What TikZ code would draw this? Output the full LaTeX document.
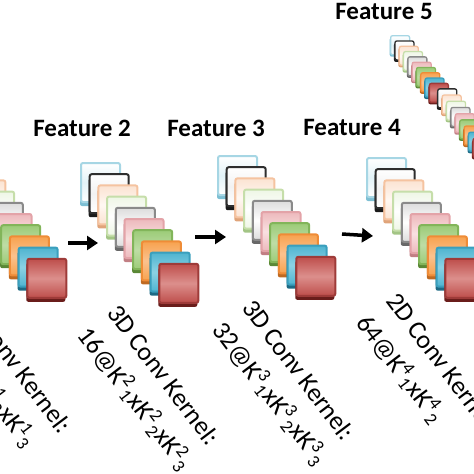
\documentclass[tikz,border=0pt]{standalone}
\usepackage{fontspec}
\setmainfont{Carlito}
\usepackage{tikz}
\usetikzlibrary{arrows.meta, shadows}
\definecolor{lbB}{HTML}{A6D6E4}\definecolor{lbF}{HTML}{FFFFFF}\definecolor{lbM}{HTML}{E2F3F8}\definecolor{lbD}{HTML}{7DBFD3}
\definecolor{bkB}{HTML}{2E2E2E}\definecolor{bkF}{HTML}{FFFFFF}\definecolor{bkM}{HTML}{F2F2F2}\definecolor{bkD}{HTML}{1A1A1A}
\definecolor{pcB}{HTML}{F5C3A0}\definecolor{pcF}{HTML}{FBE3D2}\definecolor{pcM}{HTML}{FFF8F2}\definecolor{pcD}{HTML}{E0A47A}
\definecolor{lgB}{HTML}{C6DEAA}\definecolor{lgF}{HTML}{EEF6E5}\definecolor{lgM}{HTML}{FFFFFF}\definecolor{lgD}{HTML}{A3C585}
\definecolor{gyB}{HTML}{8A8A8A}\definecolor{gyF}{HTML}{DCDCDC}\definecolor{gyM}{HTML}{FFFFFF}\definecolor{gyD}{HTML}{686868}
\definecolor{pkB}{HTML}{E3A3A8}\definecolor{pkF}{HTML}{EDB9BC}\definecolor{pkM}{HTML}{F9E0E1}\definecolor{pkD}{HTML}{C27F84}
\definecolor{gnB}{HTML}{82B55A}\definecolor{gnF}{HTML}{9CCB78}\definecolor{gnM}{HTML}{BEDDA5}\definecolor{gnD}{HTML}{5A8836}
\definecolor{orB}{HTML}{EF8C37}\definecolor{orF}{HTML}{F7A24F}\definecolor{orM}{HTML}{FBC28E}\definecolor{orD}{HTML}{BF6A22}
\definecolor{cyB}{HTML}{3A9FBD}\definecolor{cyF}{HTML}{4FB4D0}\definecolor{cyM}{HTML}{8CD2E4}\definecolor{cyD}{HTML}{1D6A84}
\definecolor{rdB}{HTML}{9E3B39}\definecolor{rdF}{HTML}{BE4E4B}\definecolor{rdM}{HTML}{DC8F8C}\definecolor{rdD}{HTML}{6A1D1B}
\newcommand{\fmcolors}{lbB/lbF/lbM/lbD, bkB/bkF/bkM/bkD, pcB/pcF/pcM/pcD, lgB/lgF/lgM/lgD, gyB/gyF/gyM/gyD, pkB/pkF/pkM/pkD, gnB/gnF/gnM/gnD, orB/orF/orM/orD, cyB/cyF/cyM/cyD, rdB/rdF/rdM/rdD}
\tikzstyle{feature} = [font=\bfseries\fontsize{25}{30}\selectfont]
\tikzstyle{kernel} = [rotate=-53, anchor=north west, inner sep=0pt, align=left, font=\fontsize{26}{37}\selectfont]
\tikzstyle{line} = [line width=3.5pt, -{Triangle[length=11pt,width=14pt]}]
\tikzstyle{sheet} = [rectangle, rounded corners=2pt, anchor=north west, inner sep=0pt]
\tikzstyle{bigsheet} = [sheet, minimum size=39pt, line width=2pt]
\tikzstyle{smallsheet} = [sheet, minimum size=19pt, line width=1.3pt]
% one feature map stack: name, x, y, style, first sheet, step x, step y, shadow
\newcommand{\fmstack}[8]{%
  \foreach \b/\f/\m/\d [count=\i from 0] in \fmcolors {
    \ifnum\i<#5\relax\else
      \node (#1-\i) [#4, draw=\b, top color=\f, bottom color=\f, middle color=\m,
        drop shadow={fill=\d, opacity=1, shadow xshift=-1pt, shadow yshift=-#8}]
        at ({#2+\i*#6},{#3+\i*#7}) {};
    \fi
  }}

\begin{document}
\begin{tikzpicture}[x=1pt,y=-1pt]
\useasboundingbox (0,0) rectangle (474,474);
\clip (0,0) rectangle (474,474);
% feature maps
\fmstack{f1}{-52}{157}{bigsheet}{0}{8.7}{11.2}{4pt}
\fmstack{f2}{80}{162}{bigsheet}{0}{8.7}{11.2}{4pt}
\fmstack{f3}{217}{155}{bigsheet}{0}{8.7}{11.2}{4pt}
\fmstack{f4}{366}{157}{bigsheet}{0}{8.7}{11.2}{4pt}
\fmstack{f5a}{390}{35}{smallsheet}{0}{4.3}{5.3}{2pt}
\fmstack{f5b}{432.7}{82}{smallsheet}{1}{4.4}{6.2}{2pt}
% titles
\node (t2) [feature] at (82,128) {Feature 2};
\node (t3) [feature] at (216,128) {Feature 3};
\node (t4) [feature] at (352,127) {Feature 4};
\node (t5) [feature] at (384,11) {Feature 5};
% arrows
\coordinate (a1s) at (68,243); \coordinate (a1e) at (98,243);
\coordinate (a2s) at (195,237); \coordinate (a2e) at (226,237);
\coordinate (a3s) at (342,234); \coordinate (a3e) at (373,236);
\draw [line] (a1s) -- (a1e);
\draw [line] (a2s) -- (a2e);
\draw [line] (a3s) -- (a3e);
% kernels
\node (k1) [kernel] at (-27,290) {3D Conv Kernel:\\8@K\textsuperscript{1}\textsubscript{1}xK\textsuperscript{1}\textsubscript{2}xK\textsuperscript{1}\textsubscript{3}};
\node (k2) [kernel] at (121,302) {3D Conv Kernel:\\16@K\textsuperscript{2}\textsubscript{1}xK\textsuperscript{2}\textsubscript{2}xK\textsuperscript{2}\textsubscript{3}};
\node (k3) [kernel] at (256,297) {3D Conv Kernel:\\32@K\textsuperscript{3}\textsubscript{1}xK\textsuperscript{3}\textsubscript{2}xK\textsuperscript{3}\textsubscript{3}};
\node (k4) [kernel] at (400,290) {2D Conv Kernel:\\64@K\textsuperscript{4}\textsubscript{1}xK\textsuperscript{4}\textsubscript{2}};
\end{tikzpicture}
\end{document}
